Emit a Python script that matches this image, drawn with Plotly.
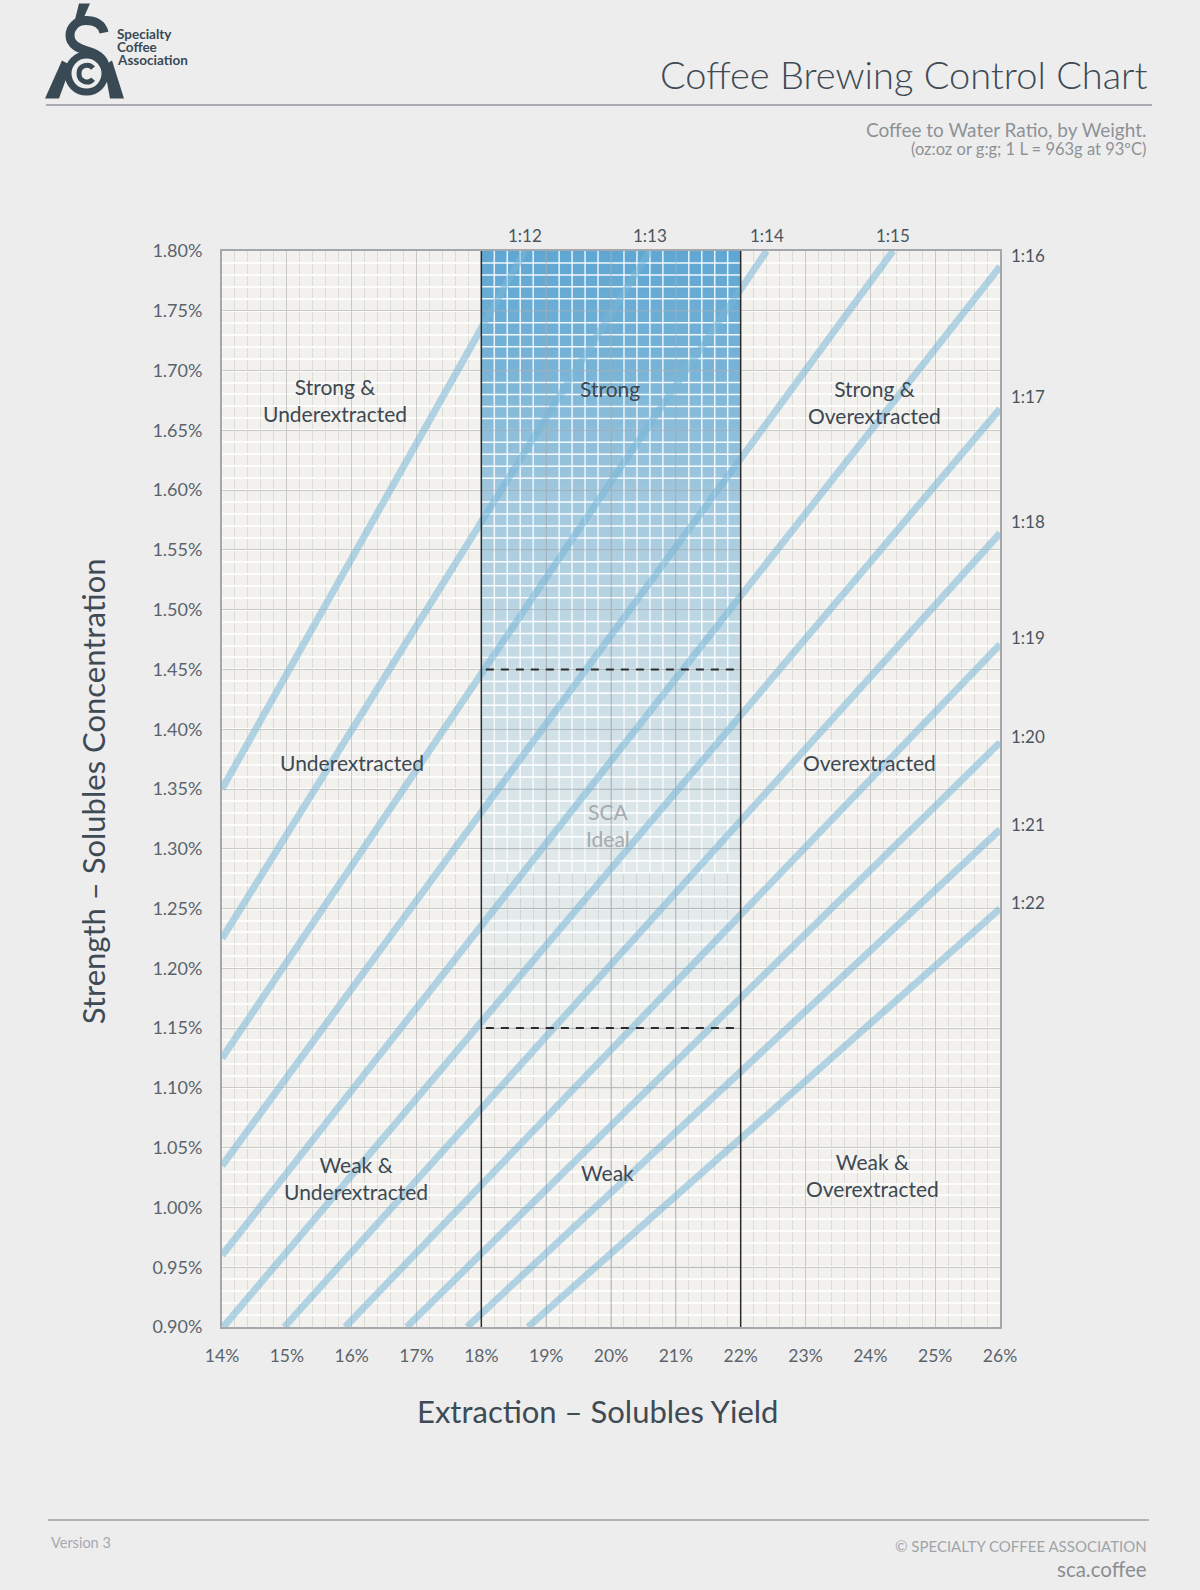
import numpy as np
import plotly.graph_objects as go

# ---------------- data ----------------
ratio_labels = ["1:12", "1:13", "1:14", "1:15", "1:16", "1:17", "1:18", "1:19", "1:20", "1:21", "1:22"]
line_start_ey = [14.0, 14.0, 14.0, 14.0, 14.0, 14.02, 14.96, 15.9, 16.85, 17.78, 18.72]
line_start_tds = [1.35, 1.225, 1.125, 1.035, 0.96, 0.90, 0.90, 0.90, 0.90, 0.90, 0.90]
line_end_ey = [18.67, 20.6, 22.4, 24.35, 26.0, 26.0, 26.0, 26.0, 26.0, 26.0, 26.0]
line_end_tds = [1.80, 1.80, 1.80, 1.80, 1.787, 1.668, 1.564, 1.471, 1.389, 1.316, 1.250]
# where the ratio labels sit (EY for labels above the top edge, TDS for labels at right edge)
label_ey = [18.67, 20.6, 22.4, 24.35, None, None, None, None, None, None, None]
label_tds = [None, None, None, None, 1.796, 1.678, 1.574, 1.477, 1.394, 1.320, 1.255]

x_ticks = [14, 15, 16, 17, 18, 19, 20, 21, 22, 23, 24, 25, 26]
x_ticktext = ["14%", "15%", "16%", "17%", "18%", "19%", "20%", "21%", "22%", "23%", "24%", "25%", "26%"]
y_ticks = [0.90, 0.95, 1.00, 1.05, 1.10, 1.15, 1.20, 1.25, 1.30, 1.35, 1.40, 1.45,
           1.50, 1.55, 1.60, 1.65, 1.70, 1.75, 1.80]
y_ticktext = ["0.90%", "0.95%", "1.00%", "1.05%", "1.10%", "1.15%", "1.20%", "1.25%", "1.30%",
              "1.35%", "1.40%", "1.45%", "1.50%", "1.55%", "1.60%", "1.65%", "1.70%", "1.75%", "1.80%"]

ideal_ey = [18.0, 22.0]
ideal_tds = [1.15, 1.45]
dash_ey = [18.07, 21.92]

region_text = ["Strong &<br>Underextracted", "Strong", "Strong &<br>Overextracted",
               "Underextracted", "Overextracted",
               "Weak &<br>Underextracted", "Weak", "Weak &<br>Overextracted"]
region_ey = [15.74, 19.98, 24.07, 16.0, 23.98, 16.07, 19.95, 24.03]
region_tds = [1.675, 1.685, 1.674, 1.372, 1.372, 1.025, 1.029, 1.027]
ideal_label_ey = 19.95
ideal_label_tds = 1.32

X0, X1 = 14, 26
Y0, Y1 = 0.90, 1.80

FONT = "Lato"
DARK = "#3d4852"

# pixel -> paper helpers for page decorations
W, H = 1200, 1590
L, R, T, B = 222, 1000, 250.5, 1327


def px(x):
    return (x - L) / (R - L)


def py(y):
    return (B - y) / (B - T)


fig = go.Figure()

# gradient fill of the ideal extraction column
fig.add_trace(go.Scatter(
    x=[ideal_ey[0], ideal_ey[1], ideal_ey[1], ideal_ey[0], ideal_ey[0]],
    y=[Y0, Y0, Y1, Y1, Y0],
    mode="lines", line=dict(width=0), fill="toself",
    fillgradient=dict(type="vertical", start=1.10, stop=1.80,
                      colorscale=[[0.0, "rgba(100,170,210,0)"],
                                  [0.2857, "rgba(100,170,210,0.13)"],
                                  [0.5, "rgba(100,170,210,0.30)"],
                                  [0.714, "rgba(98,168,210,0.58)"],
                                  [0.857, "rgba(94,166,210,0.82)"],
                                  [1.0, "rgba(90,164,210,0.97)"]]),
    hoverinfo="skip", showlegend=False))

# grid lines redrawn over the blue column
hx, hy = [], []
for v in np.round(np.arange(Y0, Y1 + 1e-9, 0.01), 2):
    if abs(round(v / 0.05) * 0.05 - v) < 1e-6:
        continue
    hx += [ideal_ey[0], ideal_ey[1], None]
    hy += [v, v, None]
fig.add_trace(go.Scatter(x=hx, y=hy, mode="lines", line=dict(color="rgba(255,255,255,0.9)", width=1.5),
                         hoverinfo="skip", showlegend=False))
vx, vy = [], []
for v in np.round(np.arange(ideal_ey[0], ideal_ey[1] + 1e-9, 0.2), 1):
    if abs(round(v) - v) < 1e-6:
        continue
    vx += [v, v, None]
    vy += [1.28, Y1, None]
fig.add_trace(go.Scatter(x=vx, y=vy, mode="lines", line=dict(color="rgba(255,255,255,0.85)", width=1.5),
                         hoverinfo="skip", showlegend=False))
mx, my = [], []
for v in [19, 20, 21]:
    mx += [v, v, None]
    my += [Y0, Y1, None]
for v in y_ticks[1:-1]:
    mx += [ideal_ey[0], ideal_ey[1], None]
    my += [v, v, None]
fig.add_trace(go.Scatter(x=mx, y=my, mode="lines", line=dict(color="rgba(175,178,180,0.75)", width=1),
                         hoverinfo="skip", showlegend=False))

# ratio lines
for i, lab in enumerate(ratio_labels):
    fig.add_trace(go.Scatter(
        x=[line_start_ey[i], line_end_ey[i]], y=[line_start_tds[i], line_end_tds[i]],
        mode="lines", line=dict(color="rgba(120,182,215,0.55)", width=7),
        hoverinfo="skip", showlegend=False, name=lab))

# ideal column borders
for e in ideal_ey:
    fig.add_trace(go.Scatter(x=[e, e], y=[Y0, Y1], mode="lines",
                             line=dict(color="#2b2b2b", width=1.5),
                             hoverinfo="skip", showlegend=False))
# ideal strength bounds
for t in ideal_tds:
    fig.add_trace(go.Scatter(x=dash_ey, y=[t, t], mode="lines",
                             line=dict(color="#2b2b2b", width=2, dash="8px,7px"),
                             hoverinfo="skip", showlegend=False))

annotations = []
# ratio labels
for i, lab in enumerate(ratio_labels):
    if label_ey[i] is not None:
        annotations.append(dict(x=label_ey[i], y=Y1, xref="x", yref="y", text=lab,
                                showarrow=False, yanchor="bottom", yshift=3,
                                font=dict(family=FONT, size=17, color="#4a5560")))
    else:
        annotations.append(dict(x=X1, y=label_tds[i], xref="x", yref="y", text=lab,
                                showarrow=False, xanchor="left", xshift=9,
                                font=dict(family=FONT, size=17, color="#4a5560")))
# region labels
for t, xe, yt in zip(region_text, region_ey, region_tds):
    annotations.append(dict(x=xe, y=yt, xref="x", yref="y", text=t, showarrow=False,
                            font=dict(family=FONT, size=21, color=DARK)))
annotations.append(dict(x=ideal_label_ey, y=ideal_label_tds, xref="x", yref="y",
                        text="SCA<br>Ideal", showarrow=False,
                        font=dict(family=FONT, size=21, color="#a6abb0")))


def page_text(x, y, text, size, color, xanchor="center", angle=0, weight=None):
    f = dict(family=FONT, size=size, color=color)
    if weight:
        f["weight"] = weight
    return dict(x=px(x), y=py(y), xref="paper", yref="paper", xanchor=xanchor,
                yanchor="middle", text=text, showarrow=False, textangle=angle, font=f)


# titles & page text
annotations += [
    page_text(1150, 73, "Coffee Brewing Control Chart", 38, "#3e4a54", "right", weight=300),
    page_text(1148, 129, "Coffee to Water Ratio, by Weight.", 19, "#8d9297", "right"),
    page_text(1148, 148, "(oz:oz or g:g; 1 L = 963g at 93ºC)", 16.5, "#8d9297", "right"),
    page_text(93, 791, "Strength – Solubles Concentration", 31, "#3e4a54", "center", angle=-90),
    page_text(597, 1411, "Extraction – Solubles Yield", 31, "#3e4a54", "center"),
    page_text(49, 1543, "Version 3", 14.5, "#a6a9ad", "left"),
    page_text(1149, 1546, "© SPECIALTY COFFEE ASSOCIATION", 15, "#a0a4a8", "right"),
    page_text(1149, 1569, "sca.coffee", 20.5, "#8a8e92", "right"),
]
# logo text
for txt, yy in [("Specialty", 33.5), ("Coffee", 46.5), ("Association", 59)]:
    annotations.append(page_text(115, yy, "<b>" + txt + "</b>", 13.5, "#3a4a55", "left"))

shapes = []
LOGO = "#3a4a55"


def pt(a, b):
    return f"{px(a):.5f},{py(b):.5f}"


def poly(pts):
    d = "M " + " L ".join(pt(a, b) for a, b in pts) + " Z"
    return dict(type="path", xref="paper", yref="paper", path=d, fillcolor=LOGO,
                line=dict(width=0), layer="above")


def stroke(d, w):
    return dict(type="path", xref="paper", yref="paper", path=d, fillcolor="rgba(0,0,0,0)",
                line=dict(color=LOGO, width=w), layer="above")


# accent
shapes.append(poly([(79, 3), (90, 3), (83, 19), (75, 19)]))
# legs
shapes.append(poly([(62, 60), (71, 65), (59, 98), (45, 98)]))
shapes.append(poly([(104, 65), (112, 60), (124, 98), (110, 98)]))
# S (upper bowl + spine)
shapes.append(stroke(
    f"M {pt(104, 32)} C {pt(102, 23)} {pt(94, 20)} {pt(86, 20)} "
    f"C {pt(76, 20)} {pt(70, 27)} {pt(70, 35)} "
    f"C {pt(70, 45)} {pt(80, 48)} {pt(89, 51)} "
    f"C {pt(98, 54)} {pt(104, 58)} {pt(105, 66)}", 9))
# ring of the S around the C
shapes.append(dict(type="circle", xref="paper", yref="paper",
                   x0=px(68), x1=px(105), y0=py(91.5), y1=py(54.5),
                   fillcolor="#ededed", line=dict(color=LOGO, width=7), layer="above"))
# C
shapes.append(stroke(
    f"M {pt(93, 67.5)} C {pt(89, 62.5)} {pt(79, 64)} {pt(79, 73)} "
    f"C {pt(79, 82)} {pt(89, 83.5)} {pt(93, 78.5)}", 5))
# rules
shapes.append(dict(type="line", xref="paper", yref="paper", x0=px(46), x1=px(1152),
                   y0=py(104.5), y1=py(104.5), line=dict(color="#a9adb1", width=2)))
shapes.append(dict(type="line", xref="paper", yref="paper", x0=px(48), x1=px(1149),
                   y0=py(1520), y1=py(1520), line=dict(color="#b0b3b6", width=2)))

fig.update_layout(
    width=W, height=H,
    margin=dict(l=L, r=W - R, t=T, b=H - B),
    paper_bgcolor="#ededed", plot_bgcolor="#f2f1ed",
    font=dict(family=FONT, color="#5b646c", size=16),
    annotations=annotations, shapes=shapes, showlegend=False,
    xaxis=dict(range=[X0, X1], tickvals=x_ticks, ticktext=x_ticktext,
               showgrid=True, gridcolor="#c9c9c5", gridwidth=1, zeroline=False,
               showline=True, mirror=True, linecolor="#a4a8ac", linewidth=2,
               ticks="outside", ticklen=12, tickcolor="rgba(0,0,0,0)",
               tickfont=dict(family=FONT, size=17.5, color="#5b646c"),
               minor=dict(dtick=0.2, tick0=14, showgrid=True, gridcolor="#dcdcd7", gridwidth=1)),
    yaxis=dict(range=[Y0, Y1], tickvals=y_ticks, ticktext=y_ticktext,
               showgrid=True, gridcolor="#c9c9c5", gridwidth=1, zeroline=False,
               showline=True, mirror=True, linecolor="#a4a8ac", linewidth=2,
               ticks="outside", ticklen=14, tickcolor="rgba(0,0,0,0)",
               tickfont=dict(family=FONT, size=18, color="#5b646c"),
               minor=dict(dtick=0.01, tick0=0.9, showgrid=True, gridcolor="#fcfcfb", gridwidth=1.5)),
)

fig.write_html("out.html")
